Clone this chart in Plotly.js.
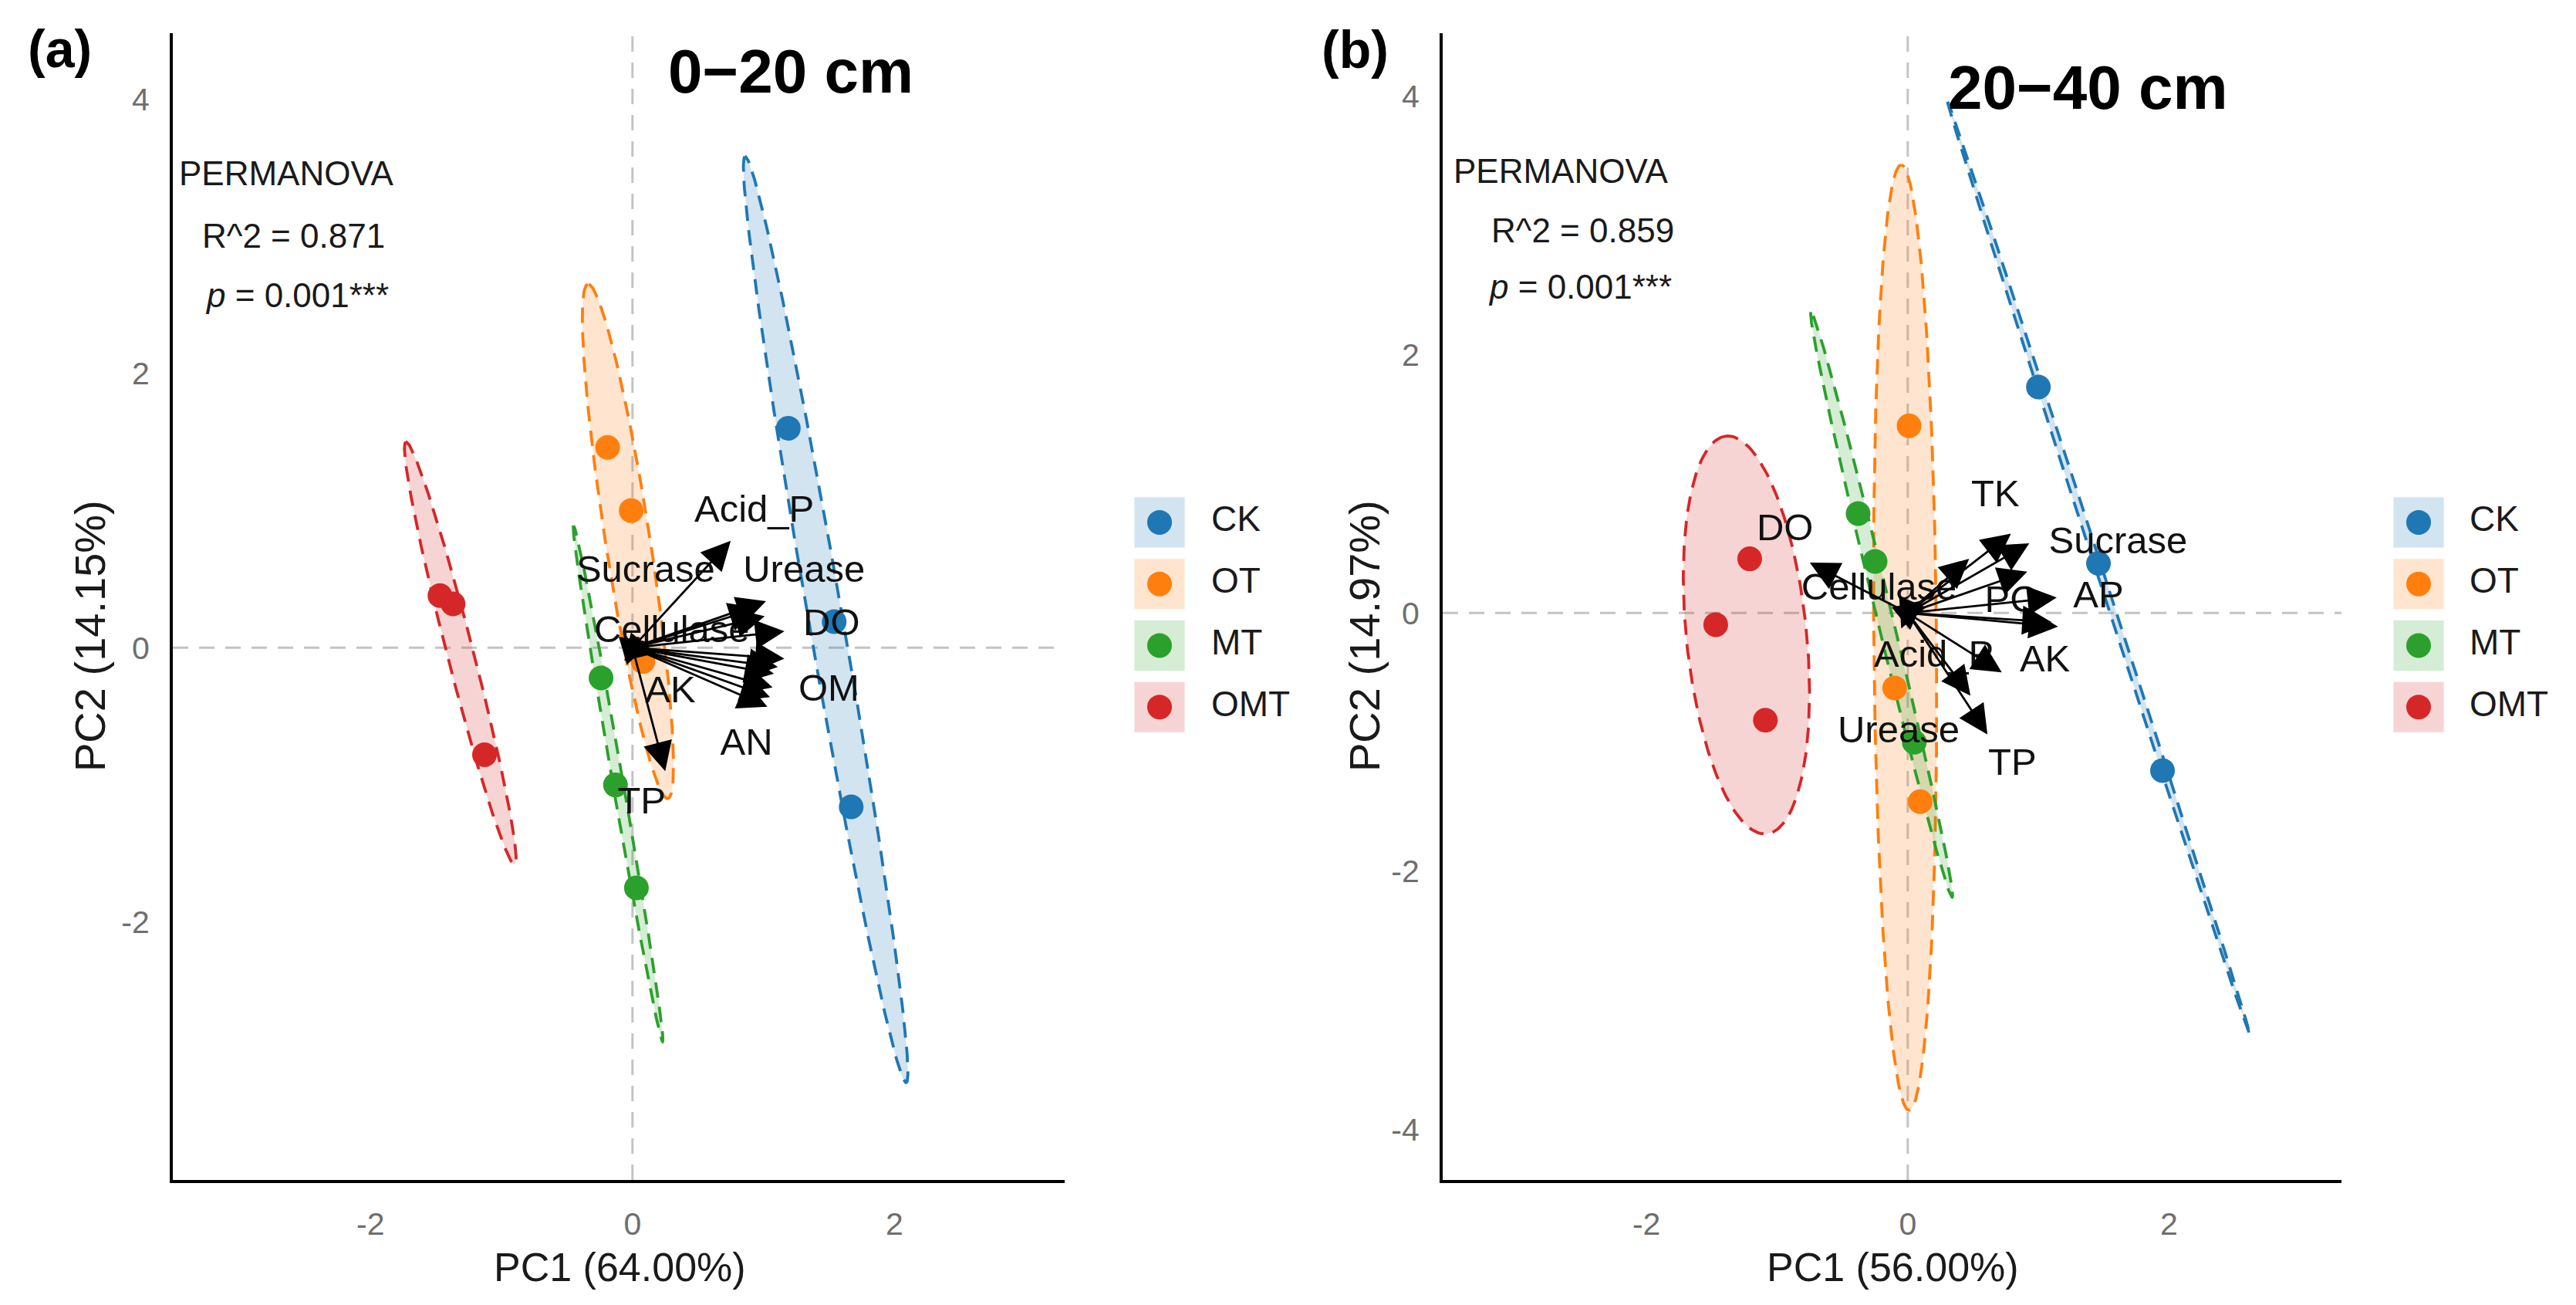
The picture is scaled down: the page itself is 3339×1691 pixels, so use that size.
<!DOCTYPE html>
<html><head><meta charset="utf-8">
<script src="https://cdn.plot.ly/plotly-3.0.1.min.js"></script>
<style>html,body{margin:0;padding:0;background:#fff;}#chart{width:3339px;height:1691px;}</style>
</head><body><div id="chart"></div>
<script>
// ---------- categories / colours ----------
const groups = ['CK', 'OT', 'MT', 'OMT'];
const groupColors = ['#1f77b4', '#ff7f0e', '#2ca02c', '#d62728'];
const groupFills = ['rgba(31,119,180,0.2)', 'rgba(255,127,14,0.2)', 'rgba(44,160,44,0.2)', 'rgba(214,39,40,0.2)'];

// ---------- panel (a) 0-20 cm : sample scores ----------
const aScoreX = [[1.19, 1.54, 1.67], [-0.19, -0.01, 0.08], [-0.24, -0.13, 0.03], [-1.47, -1.37, -1.13]];
const aScoreY = [[1.60, 0.19, -1.16], [1.46, 1.00, -0.10], [-0.22, -1.00, -1.75], [0.38, 0.32, -0.78]];
// confidence ellipses (major-axis tips + minor half width)
const aEllTopX = [0.86, -0.34, -0.45, -1.73];
const aEllTopY = [3.58, 2.65, 0.89, 1.50];
const aEllBotX = [2.09, 0.27, 0.23, -0.90];
const aEllBotY = [-3.17, -1.10, -2.87, -1.58];
const aEllHalfW = [0.13, 0.17, 0.04, 0.10];
// loading arrows
const aArrowX = [0.75, 1.02, 0.96, 1.01, 1.16, 1.16, 1.11, 1.08, 1.07, 1.05, 1.03, 0.25, 0.18, 0.14];
const aArrowY = [0.78, 0.34, 0.29, 0.23, 0.12, -0.08, -0.14, -0.19, -0.29, -0.36, -0.43, -0.90, -0.04, 0.04];
const aLabelText = ['Acid_P', 'Sucrase', 'Urease', 'Cellulase', 'DO', 'OM', 'AK', 'AN', 'TP'];
const aLabelX = [0.93, 0.10, 1.31, 0.30, 1.52, 1.50, 0.29, 0.87, 0.07];
const aLabelY = [0.99, 0.55, 0.55, 0.11, 0.16, -0.32, -0.33, -0.71, -1.14];
const aStats = ['PERMANOVA', 'R^2 = 0.871', '<i>p</i> = 0.001***'];

// ---------- panel (b) 20-40 cm ----------
const bScoreX = [[1.00, 1.46, 1.95], [0.01, -0.10, 0.095], [-0.38, -0.25, 0.05], [-1.21, -1.47, -1.09]];
const bScoreY = [[1.75, 0.385, -1.22], [1.45, -0.58, -1.46], [0.77, 0.40, -1.00], [0.42, -0.09, -0.83]];
const bEllTopX = [0.305, -0.05, -0.74, -1.39];
const bEllTopY = [3.96, 3.47, 2.33, 1.37];
const bEllBotX = [2.62, 0.01, 0.34, -1.08];
const bEllBotY = [-3.27, -3.85, -2.20, -1.71];
const bEllHalfW = [0.025, 0.24, 0.06, 0.46];
const bArrowX = [-0.75, 0.79, 0.93, 0.47, 0.915, 1.14, 1.10, 1.15, 0.72, 0.48, 0.61, 0.12, -0.05];
const bArrowY = [0.39, 0.615, 0.54, 0.42, 0.32, 0.12, -0.07, -0.105, -0.46, -0.64, -0.94, 0.10, -0.12];
const bLabelText = ['TK', 'Sucrase', 'Cellulase', 'PC', 'AP', 'Acid_P', 'AK', 'Urease', 'TP', 'DO'];
const bLabelX = [0.67, 1.61, -0.22, 0.79, 1.46, 0.20, 1.05, -0.07, 0.80, -0.94];
const bLabelY = [0.90, 0.535, 0.18, 0.08, 0.115, -0.34, -0.38, -0.93, -1.18, 0.64];
const bStats = ['PERMANOVA', 'R^2 = 0.859', '<i>p</i> = 0.001***'];

// ---------- axis ticks / titles ----------
const aXTicks = [-2, 0, 2], aXTickText = ['-2', '0', '2'];
const aYTicks = [-2, 0, 2, 4], aYTickText = ['-2', '0', '2', '4'];
const bXTicks = [-2, 0, 2], bXTickText = ['-2', '0', '2'];
const bYTicks = [-4, -2, 0, 2, 4], bYTickText = ['-4', '-2', '0', '2', '4'];
const titles = ['0\u221220 cm', '20\u221240 cm'];
const xTitles = ['PC1 (64.00%)', 'PC1 (56.00%)'];
const yTitles = ['PC2 (14.15%)', 'PC2 (14.97%)'];
const panelTags = ['(a)', '(b)'];

// ---------- geometry ----------
const W = 3339, H = 1691;
const FONT = 'Liberation Sans, Arial, sans-serif';
const px = v => v / W, py = v => 1 - v / H;
const plotTop = 43, plotBot = 1529;
const aLeft = 224, aRight = 1380, bLeft = 1870, bRight = 3035;
const aXR = [-3.51, 3.30], aYR = [-3.88, 4.48];
const bXR = [-3.56, 3.32], bYR = [-4.39, 4.49];

function ellipsePath(tx, ty, bx, by, w, sx, sy) {
  const cx = (tx + bx) / 2, cy = (ty + by) / 2;
  const ux = tx - cx, uy = ty - cy;
  const upx = ux * sx, upy = uy * sy;
  const L = Math.hypot(upx, upy);
  const vx = (-upy / L) * w, vy = (upx / L) * w * sx / sy;
  const xs = [], ys = [];
  for (let i = 0; i <= 240; i++) {
    const t = 2 * Math.PI * i / 240;
    xs.push(cx + ux * Math.cos(t) + vx * Math.sin(t));
    ys.push(cy + uy * Math.cos(t) + vy * Math.sin(t));
  }
  return [xs, ys];
}

const traces = [];
function addPanel(sx, sy, xa, ya, scoreX, scoreY, eTX, eTY, eBX, eBY, eW, labT, labX, labY) {
  groups.forEach((g, i) => {
    const [ex, ey] = ellipsePath(eTX[i], eTY[i], eBX[i], eBY[i], eW[i], sx, sy);
    traces.push({type: 'scatter', mode: 'lines', x: ex, y: ey, xaxis: xa, yaxis: ya,
      fill: 'toself', fillcolor: groupFills[i],
      line: {color: groupColors[i], width: 3.8, dash: '20px,12px'},
      hoverinfo: 'skip', showlegend: false});
  });
  groups.forEach((g, i) => {
    traces.push({type: 'scatter', mode: 'markers', name: g, x: scoreX[i], y: scoreY[i], xaxis: xa, yaxis: ya,
      marker: {color: groupColors[i], size: 32, line: {width: 0}}, showlegend: false});
  });
  traces.push({type: 'scatter', mode: 'text', x: labX, y: labY, text: labT, xaxis: xa, yaxis: ya,
    textposition: 'middle center', textfont: {family: FONT, size: 49, color: '#111'},
    hoverinfo: 'skip', showlegend: false});
}
const aSX = (aRight - aLeft) / (aXR[1] - aXR[0]), aSY = (plotBot - plotTop) / (aYR[1] - aYR[0]);
const bSX = (bRight - bLeft) / (bXR[1] - bXR[0]), bSY = (plotBot - plotTop) / (bYR[1] - bYR[0]);
addPanel(aSX, aSY, 'x', 'y', aScoreX, aScoreY, aEllTopX, aEllTopY, aEllBotX, aEllBotY, aEllHalfW, aLabelText, aLabelX, aLabelY);
addPanel(bSX, bSY, 'x2', 'y2', bScoreX, bScoreY, bEllTopX, bEllTopY, bEllBotX, bEllBotY, bEllHalfW, bLabelText, bLabelX, bLabelY);

// legends (hidden axes x3/y3 and x4/y4)
const legIdx = groups.map((g, i) => i);
[['x3', 'y3', 63, 130], ['x4', 'y4', 65, 131]].forEach(([xa, ya, kx, tx]) => {
  traces.push({type: 'scatter', mode: 'markers', x: groups.map(() => kx), y: legIdx, xaxis: xa, yaxis: ya,
    marker: {symbol: 'square', size: 68, color: groupFills, line: {color: 'rgba(255,255,255,0.9)', width: 3}},
    hoverinfo: 'skip', showlegend: false});
  traces.push({type: 'scatter', mode: 'markers', x: groups.map(() => kx), y: legIdx, xaxis: xa, yaxis: ya,
    marker: {symbol: 'circle', size: 32, color: groupColors, line: {width: 0}}, hoverinfo: 'skip', showlegend: false});
  traces.push({type: 'scatter', mode: 'text', x: groups.map(() => tx), y: legIdx, text: groups, xaxis: xa, yaxis: ya,
    textposition: 'middle right', textfont: {family: FONT, size: 46, color: '#1a1a1a'}, hoverinfo: 'skip', showlegend: false});
});

// annotations
const annotations = [];
function arrows(ax, ay, xr, yr) {
  ax.forEach((v, i) => annotations.push({x: v, y: ay[i], ax: 0, ay: 0, xref: xr, yref: yr, axref: xr, ayref: yr,
    text: '', showarrow: true, arrowhead: 2, arrowsize: 2.7, arrowwidth: 2.8, arrowcolor: '#000', standoff: 0}));
}
arrows(aArrowX, aArrowY, 'x', 'y');
arrows(bArrowX, bArrowY, 'x2', 'y2');

const statPos = [[[230, 224], [260, 305], [264, 383]], [[1882, 221], [1931, 298], [1927, 371]]];
[aStats, bStats].forEach((st, p) => st.forEach((t, i) => annotations.push({
  text: t, xref: 'paper', yref: 'paper', x: px(statPos[p][i][0]), y: py(statPos[p][i][1]),
  xanchor: 'left', yanchor: 'middle', showarrow: false, font: {family: FONT, size: 44, color: '#1a1a1a'}})));

const titlePos = [[1025, 92], [2706, 114]];
titles.forEach((t, i) => annotations.push({text: '<b>' + t + '</b>', xref: 'paper', yref: 'paper',
  x: px(titlePos[i][0]), y: py(titlePos[i][1]), xanchor: 'center', yanchor: 'middle', showarrow: false,
  font: {family: FONT, size: 80, color: '#000'}}));
const tagPos = [[77, 63], [1757, 64]];
panelTags.forEach((t, i) => annotations.push({text: '<b>' + t + '</b>', xref: 'paper', yref: 'paper',
  x: px(tagPos[i][0]), y: py(tagPos[i][1]), xanchor: 'center', yanchor: 'middle', showarrow: false,
  font: {family: FONT, size: 68, color: '#000'}}));
const xtPos = [[803, 1642], [2453, 1642]];
xTitles.forEach((t, i) => annotations.push({text: t, xref: 'paper', yref: 'paper',
  x: px(xtPos[i][0]), y: py(xtPos[i][1]), xanchor: 'center', yanchor: 'middle', showarrow: false,
  font: {family: FONT, size: 52, color: '#1a1a1a'}}));
const ytPos = [[117, 824], [1769, 824]];
yTitles.forEach((t, i) => annotations.push({text: t, xref: 'paper', yref: 'paper', textangle: -90,
  x: px(ytPos[i][0]), y: py(ytPos[i][1]), xanchor: 'center', yanchor: 'middle', showarrow: false,
  font: {family: FONT, size: 56, color: '#1a1a1a'}}));

// dashed zero lines
const shapes = [];
[['x', 'y'], ['x2', 'y2']].forEach(([xr, yr]) => {
  shapes.push({type: 'line', xref: xr, yref: yr + ' domain', x0: 0, x1: 0, y0: 0, y1: 1,
    line: {color: '#c4c4c4', width: 3, dash: '20px,14px'}, layer: 'below'});
  shapes.push({type: 'line', xref: xr + ' domain', yref: yr, x0: 0, x1: 1, y0: 0, y1: 0,
    line: {color: '#c4c4c4', width: 3, dash: '20px,14px'}, layer: 'below'});
});

function axis(domain, range, tv, tt, anchor) {
  return {domain: domain, range: range, anchor: anchor, showline: true, linecolor: '#000', linewidth: 4,
    showgrid: false, zeroline: false, ticks: '', tickvals: tv, ticktext: tt, ticklabelstandoff: 18,
    tickfont: {family: FONT, size: 41, color: '#6e6e6e'}, fixedrange: true};
}
const hidden = (d, r, anchor) => ({domain: d, range: r, visible: false, fixedrange: true, anchor: anchor});

const layout = {
  width: W, height: H, margin: {l: 0, r: 0, t: 0, b: 0}, paper_bgcolor: '#fff', plot_bgcolor: 'rgba(0,0,0,0)',
  showlegend: false, font: {family: FONT},
  xaxis: axis([px(aLeft), px(aRight)], aXR, aXTicks, aXTickText, 'y'),
  yaxis: axis([py(plotBot), py(plotTop)], aYR, aYTicks, aYTickText, 'x'),
  xaxis2: axis([px(bLeft), px(bRight)], bXR, bXTicks, bXTickText, 'y2'),
  yaxis2: axis([py(plotBot), py(plotTop)], bYR, bYTicks, bYTickText, 'x2'),
  xaxis3: hidden([px(1440), px(1740)], [0, 300], 'y3'),
  yaxis3: hidden([py(956), py(637)], [3.5, -0.5], 'x3'),
  xaxis4: hidden([px(3070), px(3339)], [0, 269], 'y4'),
  yaxis4: hidden([py(956), py(637)], [3.5, -0.5], 'x4'),
  annotations: annotations, shapes: shapes
};
Plotly.newPlot('chart', traces, layout, {staticPlot: true, displayModeBar: false});
</script></body></html>
